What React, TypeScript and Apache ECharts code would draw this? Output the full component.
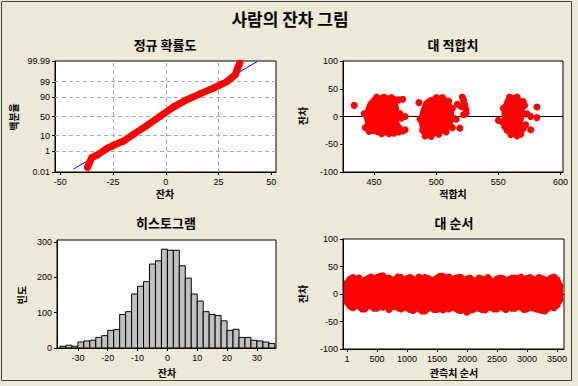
import React, { useEffect, useRef } from "react";
import * as echarts from "echarts";

// ---------- data ----------
// Normal probability plot: residual vs cumulative percent (thick red curve)
const probResid = [-37.1, -36.1, -35.0, -32.6, -27.9, -24.7, -20.0, -15.3, -8.9, -2.6, 3.7, 10.0, 16.4, 22.7, 29.0, 32.9, 34.0, 35.0];
const probPct = [0.033, 0.11, 0.3, 0.48, 1.6, 2.7, 5, 11.6, 27.5, 50.8, 74, 87, 93.7, 97.2, 99.04, 99.74, 99.94, 99.982];
// fitted normal reference line end points
const refResid = [-43.7, 43.2];
const refPct = [0.0216, 99.988];
const pctTicks = [0.01, 1, 10, 50, 90, 99, 99.99];
const pctTickLabels = ["0.01", "1", "10", "50", "90", "99", "99.99"];

// Residuals vs fits: dense cores (outlines) and visible individual points
const fitCore1 = [[445, 10], [447, 22], [450, 30], [455, 33], [460, 33], [465, 30], [467, 22], [468, 10], [468, -5], [467, -18], [464, -26], [458, -29], [452, -28], [448, -22], [445, -10], [444, 0]];
const fitCore2 = [[490, 12], [492, 24], [496, 30], [502, 32], [507, 30], [510, 22], [512, 10], [512, -5], [510, -18], [505, -26], [498, -30], [492, -30], [489, -18], [488, -5]];
const fitCore3 = [[556, 20], [558, 30], [562, 33], [566, 31], [568, 22], [569, 10], [568, -5], [566, -20], [563, -30], [559, -28], [557, -15], [555, 0], [555, 10]];
const fitPoints = [
  [434, 20], [442, 5], [443, -20], [446, -27], [449, -25], [452, 35], [458, 35], [464, 34], [466, 31], [470, 30], [473, 31], [471, 5], [472, -3], [475, 0], [475, -24], [473, -26], [470, -28], [466, -30], [468, -14], [470, -20], [462, -31], [456, -31],
  [486, 25], [487, -5], [489, -25], [491, -35], [494, -33], [500, 34], [505, 34], [510, 28], [513, 15], [514, -3], [513, -20], [508, -28], [502, -32], [496, -36],
  [521, 35], [522, 29], [523, 21], [520, 18], [524, 12], [524, 6], [522, 3], [519, -21], [516, -5], [517, 22],
  [550, -7], [553, -10], [555, -18], [557, -25], [560, -33], [565, -35], [568, -32], [570, -22], [572, -15], [573, 5], [571, 20], [570, 27], [565, 35], [559, 35], [554, 15], [581, 17], [581, -2], [576, -24], [576, 0],
];

// Histogram: bins of width 2 from -36 to 36
const binStart = [-36, -34, -32, -30, -28, -26, -24, -22, -20, -18, -16, -14, -12, -10, -8, -6, -4, -2, 0, 2, 4, 6, 8, 10, 12, 14, 16, 18, 20, 22, 24, 26, 28, 30, 32, 34];
const binCount = [5, 8, 5, 17, 20, 22, 30, 35, 50, 52, 95, 103, 153, 175, 188, 238, 247, 280, 277, 277, 233, 198, 153, 133, 103, 95, 92, 77, 50, 53, 30, 30, 22, 20, 17, 13];
const binWidth = 2;

// Residuals vs order: ragged upper and lower edges of the dense band
const orderObs = [1, 50, 100, 150, 200, 250, 300, 350, 400, 450, 500, 550, 600, 650, 700, 750, 800, 850, 900, 950, 1000, 1050, 1100, 1150, 1200, 1250, 1300, 1350, 1400, 1450, 1500, 1550, 1600, 1650, 1700, 1750, 1800, 1850, 1900, 1950, 2000, 2050, 2100, 2150, 2200, 2250, 2300, 2350, 2400, 2450, 2500, 2550, 2600, 2650, 2700, 2750, 2800, 2850, 2900, 2950, 3000, 3050, 3100, 3150, 3200, 3250, 3300, 3350, 3400, 3450, 3500, 3550];
const orderTop = [20, 27, 30, 24, 29, 22, 25, 28, 31, 26, 30, 32, 33, 27, 29, 24, 26, 31, 30, 25, 28, 30, 27, 23, 31, 26, 30, 28, 26, 24, 29, 32, 32, 28, 31, 26, 28, 30, 30, 24, 27, 29, 25, 22, 29, 27, 26, 30, 24, 22, 27, 29, 28, 25, 26, 29, 29, 27, 31, 25, 28, 30, 27, 23, 30, 28, 26, 24, 29, 31, 26, 15];
const orderBottom = [-15, -22, -25, -20, -22, -27, -27, -22, -20, -26, -26, -22, -24, -20, -28, -23, -22, -25, -27, -24, -25, -28, -30, -25, -27, -31, -31, -26, -24, -28, -28, -25, -29, -24, -27, -24, -25, -29, -30, -27, -33, -29, -28, -24, -26, -28, -29, -24, -24, -27, -27, -22, -25, -28, -22, -26, -26, -23, -24, -28, -27, -24, -25, -27, -28, -30, -31, -26, -22, -25, -20, -10];

// ---------- helpers ----------
function probit(p: number): number {
  const a = [-39.69683028665376, 220.9460984245205, -275.9285104469687, 138.357751867269, -30.66479806614716, 2.506628277459239];
  const b = [-54.47609879822406, 161.5858368580409, -155.6989798598866, 66.80131188771972, -13.28068155288572];
  const c = [-0.007784894002430293, -0.3223964580411365, -2.400758277161838, -2.549732539343734, 4.374664141464968, 2.938163982698783];
  const d = [0.007784695709041462, 0.3224671290700398, 2.445134137142996, 3.754408661907416];
  const pl = 0.02425;
  if (p < pl) {
    const q = Math.sqrt(-2 * Math.log(p));
    return (((((c[0] * q + c[1]) * q + c[2]) * q + c[3]) * q + c[4]) * q + c[5]) / ((((d[0] * q + d[1]) * q + d[2]) * q + d[3]) * q + 1);
  }
  if (p <= 1 - pl) {
    const q = p - 0.5;
    const r = q * q;
    return ((((((a[0] * r + a[1]) * r + a[2]) * r + a[3]) * r + a[4]) * r + a[5]) * q) / (((((b[0] * r + b[1]) * r + b[2]) * r + b[3]) * r + b[4]) * r + 1);
  }
  const q = Math.sqrt(-2 * Math.log(1 - p));
  return -(((((c[0] * q + c[1]) * q + c[2]) * q + c[3]) * q + c[4]) * q + c[5]) / ((((d[0] * q + d[1]) * q + d[2]) * q + d[3]) * q + 1);
}
const z = (pct: number) => probit(pct / 100);

const RED = "#ff0000";
const TICK_FONT = { color: "#000", fontFamily: "Liberation Sans, Arial, sans-serif", fontSize: 9 };
const KFONT = "'Noto Sans CJK KR', sans-serif";

function valueAxis(gridIndex: number, min: number, max: number, ticks: number[]) {
  return {
    gridIndex,
    type: "value",
    min,
    max,
    axisLine: { show: true, onZero: false, lineStyle: { color: "#000", width: 1 } },
    axisTick: { show: true, length: 3, customValues: ticks, lineStyle: { color: "#000" } },
    axisLabel: { show: true, margin: 5, customValues: ticks, ...TICK_FONT, formatter: (v: number) => String(v) },
    splitLine: { show: false },
  };
}

function polygonSeries(xi: number, outline: number[][], zz: number) {
  return {
    type: "custom",
    xAxisIndex: xi,
    yAxisIndex: xi,
    z: zz,
    silent: true,
    data: [outline[0]],
    renderItem: (_p: any, api: any) => ({
      type: "polygon",
      shape: { points: outline.map((pt) => api.coord(pt)) },
      style: { fill: RED, stroke: RED, lineWidth: 6, lineJoin: "round" },
    }),
  };
}

function txt(text: string, x: number, y: number, size: number, rotate = 0) {
  return {
    type: "text",
    x,
    y,
    rotation: rotate,
    style: {
      text,
      x: 0,
      y: 0,
      fill: "#000",
      font: `bold ${size}px ${KFONT}`,
      textAlign: "center",
      textVerticalAlign: "middle",
    },
  };
}

export default function App() {
  const ref = useRef<HTMLDivElement>(null);
  useEffect(() => {
    document.body.style.margin = "0";
    const chart = echarts.init(ref.current!, undefined, { renderer: "svg" });

    const probData = probResid.map((r, i) => [r, z(probPct[i])]);
    const refData = refResid.map((r, i) => [r, z(refPct[i])]);
    const zMin = z(0.01);
    const zMax = z(99.99);
    const pctGrid = [1, 10, 50, 90, 99];

    const orderPoly = [
      ...orderObs.map((o, i) => [o, orderTop[i]]),
      ...orderObs.map((o, i) => [o, orderBottom[i]]).reverse(),
    ];
    const orderPts = [
      ...orderObs.map((o, i) => [o, orderTop[i]]),
      ...orderObs.map((o, i) => [o, orderBottom[i]]),
    ];

    const option: any = {
      animation: false,
      backgroundColor: "#ece9d8",
      grid: [
        { left: 55, top: 61, width: 221, height: 111, show: true, backgroundColor: "#fff", borderColor: "#000", borderWidth: 1 },
        { left: 343, top: 61, width: 220, height: 111, show: true, backgroundColor: "#fff", borderColor: "#000", borderWidth: 1 },
        { left: 57, top: 240, width: 219, height: 108, show: true, backgroundColor: "#fff", borderColor: "#000", borderWidth: 1 },
        { left: 343, top: 239, width: 221, height: 110, show: true, backgroundColor: "#fff", borderColor: "#000", borderWidth: 1 },
      ],
      xAxis: [
        valueAxis(0, -52.5, 52.2, [-50, -25, 0, 25, 50]),
        valueAxis(1, 425, 602, [450, 500, 550, 600]),
        valueAxis(2, -37, 36.4, [-30, -20, -10, 0, 10, 20, 30]),
        valueAxis(3, -66, 3617, [1, 500, 1000, 1500, 2000, 2500, 3000, 3500]),
      ],
      yAxis: [
        {
          ...valueAxis(0, zMin, zMax, pctTicks.map(z)),
          axisLabel: {
            show: true,
            margin: 5,
            customValues: pctTicks.map(z),
            ...TICK_FONT,
            formatter: (v: number) => {
              let best = 0;
              pctTicks.forEach((p, i) => {
                if (Math.abs(z(p) - v) < Math.abs(z(pctTicks[best]) - v)) best = i;
              });
              return pctTickLabels[best];
            },
          },
        },
        valueAxis(1, -100, 100, [-100, -50, 0, 50, 100]),
        valueAxis(2, 0, 306, [0, 100, 200, 300]),
        valueAxis(3, -100, 100, [-100, -50, 0, 50, 100]),
      ],
      series: [
        // panel 1: grid + reference line + curve
        {
          type: "line",
          xAxisIndex: 0,
          yAxisIndex: 0,
          data: refData,
          symbol: "none",
          z: 3,
          lineStyle: { color: "#0000ff", width: 1 },
          markLine: {
            silent: true,
            z: 1,
            symbol: ["none", "none"],
            label: { show: false },
            lineStyle: { color: "#a8a8a8", type: [4, 3], width: 1 },
            data: [
              ...[-25, 0, 25].map((v) => ({ xAxis: v })),
              ...pctGrid.map((p) => ({ yAxis: z(p) })),
            ],
          },
        },
        {
          type: "line",
          xAxisIndex: 0,
          yAxisIndex: 0,
          data: probData,
          z: 4,
          symbol: "circle",
          symbolSize: 7,
          itemStyle: { color: RED, opacity: 1 },
          lineStyle: { color: RED, width: 7, cap: "round", join: "round" },
        },
        // panel 2
        {
          type: "line",
          xAxisIndex: 1,
          yAxisIndex: 1,
          data: [],
          z: 1,
          markLine: {
            silent: true,
            z: 1,
            symbol: ["none", "none"],
            label: { show: false },
            lineStyle: { color: "#000", type: "solid", width: 1 },
            data: [{ yAxis: 0 }],
          },
        },
        polygonSeries(1, fitCore1, 3),
        polygonSeries(1, fitCore2, 3),
        polygonSeries(1, fitCore3, 3),
        {
          type: "scatter",
          xAxisIndex: 1,
          yAxisIndex: 1,
          data: fitPoints,
          z: 4,
          symbol: "circle",
          symbolSize: 7,
          itemStyle: { color: RED, opacity: 1 },
        },
        // panel 3: histogram
        {
          type: "custom",
          xAxisIndex: 2,
          yAxisIndex: 2,
          z: 3,
          data: binStart.map((s, i) => [s, s + binWidth, binCount[i]]),
          renderItem: (_p: any, api: any) => {
            const p0 = api.coord([api.value(0), 0]);
            const p1 = api.coord([api.value(1), api.value(2)]);
            return {
              type: "rect",
              shape: { x: p0[0], y: p1[1], width: p1[0] - p0[0], height: p0[1] - p1[1] },
              style: { fill: "#c0c0c0", stroke: "#000", lineWidth: 1 },
            };
          },
        },
        // panel 4
        {
          type: "line",
          xAxisIndex: 3,
          yAxisIndex: 3,
          data: [],
          z: 1,
          markLine: {
            silent: true,
            z: 1,
            symbol: ["none", "none"],
            label: { show: false },
            lineStyle: { color: "#000", type: "solid", width: 1 },
            data: [{ yAxis: 0 }],
          },
        },
        polygonSeries(3, orderPoly, 3),
        {
          type: "scatter",
          xAxisIndex: 3,
          yAxisIndex: 3,
          data: orderPts,
          z: 4,
          symbol: "circle",
          symbolSize: 7,
          itemStyle: { color: RED, opacity: 1 },
        },
      ],
      graphic: [
        {
          type: "rect",
          shape: { x: 1.5, y: 1.5, width: 570, height: 379 },
          style: { fill: "none", stroke: "#404040", lineWidth: 1 },
        },
        txt("사람의 잔차 그림", 290, 18, 17),
        txt("정규 확률도", 165, 44, 13),
        txt("대 적합치", 453, 44, 13),
        txt("히스토그램", 166, 222, 13),
        txt("대 순서", 454, 222, 13),
        txt("잔차", 165, 193, 10),
        txt("적합치", 453, 193, 10),
        txt("잔차", 167, 372, 10),
        txt("관측치 순서", 454, 372, 10),
        txt("백분율", 13, 117, 10, Math.PI / 2),
        txt("잔차", 302, 116, 10, Math.PI / 2),
        txt("빈도", 21, 295, 10, Math.PI / 2),
        txt("잔차", 302, 294, 10, Math.PI / 2),
      ],
    };
    chart.setOption(option);
    return () => chart.dispose();
  }, []);
  return <div ref={ref} style={{ width: 578, height: 386 }} />;
}
